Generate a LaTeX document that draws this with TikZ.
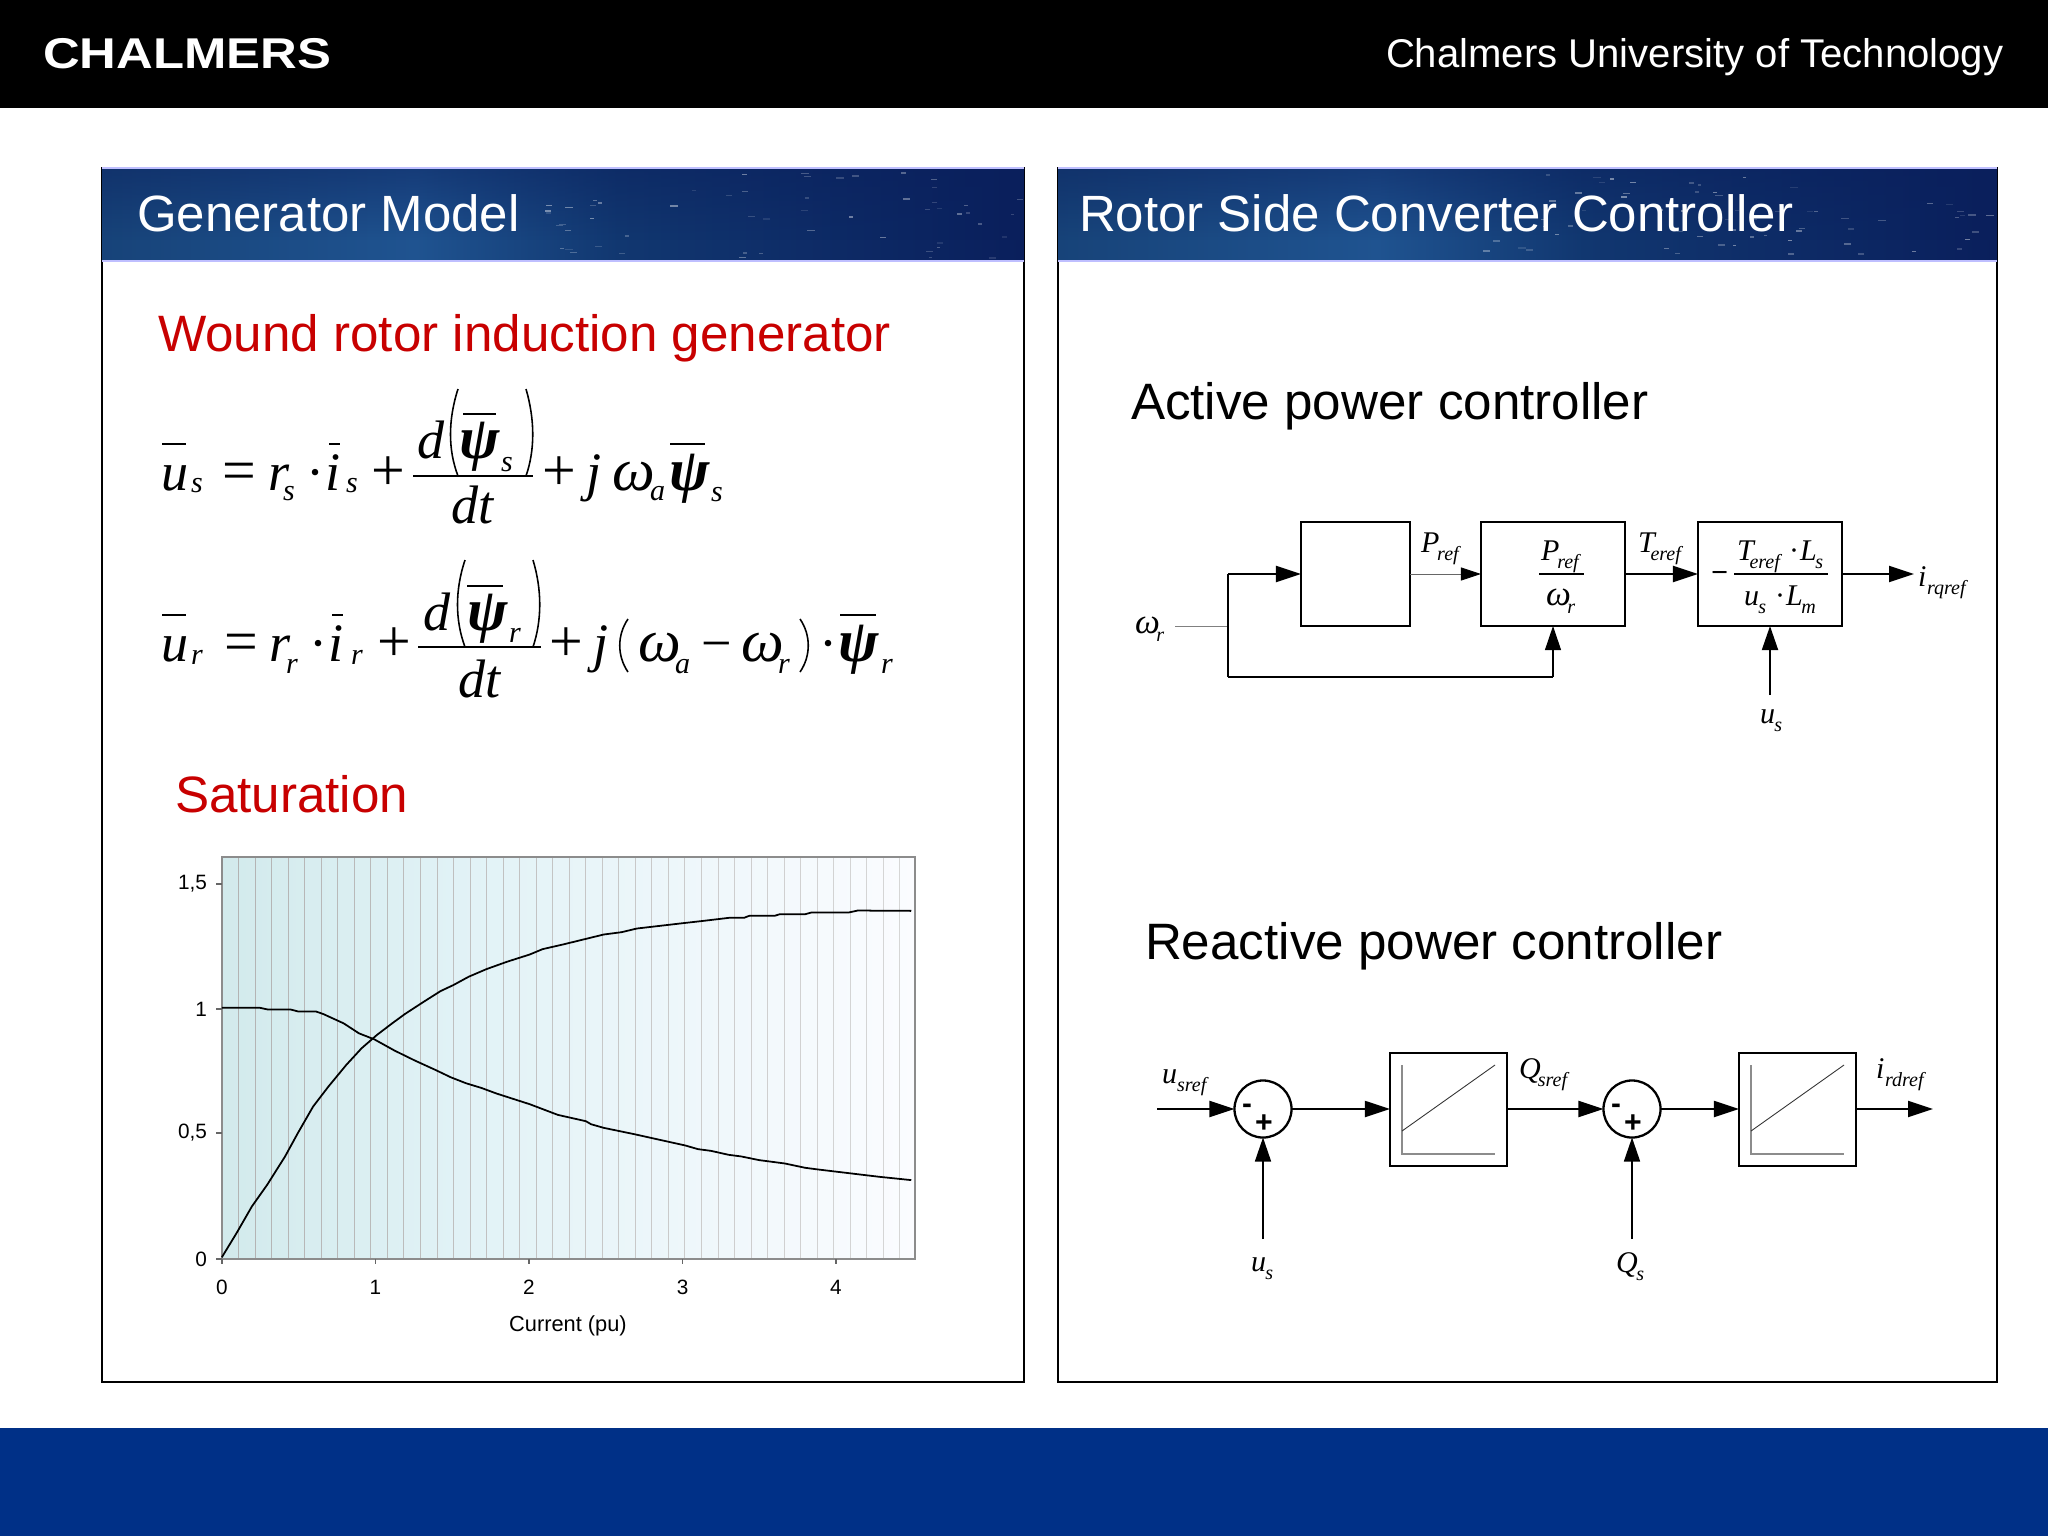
\documentclass[tikz,border=0pt]{standalone}
\usepackage{fontspec}
\setmainfont{Liberation Sans}
\newfontfamily\tms{Liberation Serif}
\usetikzlibrary{arrows.meta,fadings}
\definecolor{slidered}{HTML}{C80000}
\definecolor{bottombar}{HTML}{003087}
\definecolor{hA}{HTML}{174379}
\definecolor{hB}{HTML}{1F5390}
\definecolor{hC}{HTML}{113770}
\definecolor{hD}{HTML}{0A1F5C}
\definecolor{pA}{HTML}{D2EAEC}
\definecolor{pB}{HTML}{E1F2F6}
\definecolor{pC}{HTML}{FBFCFF}
\pgfdeclarehorizontalshading{hdrshade}{100bp}{color(0bp)=(hA);color(25bp)=(hA);color(42bp)=(hB);color(53bp)=(hC);color(75bp)=(hD);color(100bp)=(hD)}
\pgfdeclarehorizontalshading{plotshade}{100bp}{color(0bp)=(pA);color(25bp)=(pA);color(42bp)=(pB);color(75bp)=(pC);color(100bp)=(pC)}
\tikzset{
  txt/.style={inner sep=0pt,outer sep=0pt,anchor=base west},
  slidetitle/.style={txt,text=white,font=\fontsize{14.5}{17}\selectfont},
  heading/.style={txt,font=\fontsize{14.55}{17}\selectfont},
  redhead/.style={heading,text=slidered},
  big/.style={txt,font=\fontsize{15.4}{18}\selectfont\tms\itshape},
  greek/.style={txt,font=\fontsize{17.2}{20}\selectfont\tms\itshape\bfseries},
  greekl/.style={txt,font=\fontsize{17.2}{20}\selectfont\tms\itshape},
  bigup/.style={txt,font=\fontsize{15.4}{18}\selectfont\tms},
  bigop/.style={txt,font=\fontsize{17}{18}\selectfont\tms},
  small/.style={txt,font=\fontsize{8.54}{10}\selectfont\tms\itshape},
  smallup/.style={txt,font=\fontsize{8.54}{10}\selectfont\tms},
  axlab/.style={inner sep=0pt,outer sep=0pt,font=\fontsize{5.9}{7}\selectfont},
  eqline/.style={line width=0.45pt,black},
  panel/.style={draw=black,line width=0.6pt,fill=white},
  box/.style={draw=black,line width=0.65pt,fill=white,inner sep=0pt,outer sep=0pt,minimum width=#1},
  box/.default=1cm,
  sumnode/.style={draw=black,line width=0.65pt,circle,minimum size=0.57cm,inner sep=0pt,outer sep=0pt},
  link/.style={line width=0.55pt,black,-{Triangle[length=0.25cm,width=0.16cm]}},
  thinlink/.style={line width=0.25pt,black!60,-{Triangle[length=0.2cm,width=0.13cm,color=black,fill=black]}},
  uplink/.style={line width=0.45pt,black,-{Triangle[length=0.24cm,width=0.16cm]}},
  wire/.style={line width=0.55pt,black},
  thinwire/.style={line width=0.25pt,black!50},
  curve/.style={line width=0.5pt,black,line join=round},
  inneraxis/.style={line width=0.4pt,black!45},
  ramp/.style={line width=0.25pt,black!80},
}
\newcommand{\sublab}[3][-0.6pt]{#2\kern#1\raisebox{-2.4pt}{\fontsize{5.7}{6}\selectfont\tms\itshape #3}}
\newcommand{\sublabg}[3][-0.6pt]{{\fontsize{10}{10}\selectfont #2}\kern#1\raisebox{-2.4pt}{\fontsize{5.7}{6}\selectfont\tms\itshape #3}}
\begin{document}
\begin{tikzpicture}[x=0.01cm,y=-0.01cm]
\useasboundingbox (0,0) rectangle (2048,1536);
\fill[white] (0,0) rectangle (2048,1536);
% top and bottom bars
\fill[black] (0,0) rectangle (2048,108);
\fill[bottombar] (0,1428) rectangle (2048,1536);
\node[txt,text=white,font=\fontsize{12.25}{14}\selectfont\bfseries] (logo) at (43,68) {\scalebox{1.18}[1]{CHALMERS}};
\node[txt,text=white,font=\fontsize{11.4}{13}\selectfont] (uni) at (1386,67) {Chalmers University of Technology};
% panels
\draw[panel] (102,168) rectangle (1024,1382);
\draw[panel] (1058,168) rectangle (1997,1382);
\shade[shading=hdrshade] (102,168) rectangle (1024,261);
\shade[shading=hdrshade] (1058,168) rectangle (1997,261);
\fill[hD,opacity=0.45,path fading=south] (102,168) rectangle (1024,240);
\fill[hD,opacity=0.45,path fading=south] (1058,168) rectangle (1997,240);
\draw[line width=0.3pt,blue!25!white] (102,168) -- (1024,168) (102,261) -- (1024,261);
\draw[line width=0.3pt,blue!25!white] (1058,168) -- (1997,168) (1058,261) -- (1997,261);
\pgfmathsetseed{23}
\foreach \i in {1,...,55}{
  \pgfmathsetmacro\sx{540+480*rnd}\pgfmathsetmacro\sy{172+86*rnd}\pgfmathsetmacro\so{0.1+0.35*rnd}\pgfmathsetmacro\sl{3+5*rnd}
  \fill[white,opacity=\so] (\sx,\sy) rectangle ++(\sl,1.4);
}
\foreach \i in {1,...,65}{
  \pgfmathsetmacro\sx{1480+515*rnd}\pgfmathsetmacro\sy{172+86*rnd}\pgfmathsetmacro\so{0.1+0.35*rnd}\pgfmathsetmacro\sl{3+5*rnd}
  \fill[white,opacity=\so] (\sx,\sy) rectangle ++(\sl,1.4);
}
\node[slidetitle] (t1) at (137,231) {Generator Model};
\node[slidetitle] (t2) at (1079,231) {Rotor Side Converter Controller};
\node[redhead] (h1) at (158,351.5) {Wound rotor induction generator};
\node[redhead] (h2) at (175,812) {Saturation};
\node[heading] (h3) at (1131,419.5) {Active power controller};
\node[heading] (h4) at (1145,959.5) {Reactive power controller};
% equation 1
\node[big] (a1) at (161,490) {u};
\node[small] (a2) at (191,492) {s};
\node[bigop] (a3) at (222,490) {=};
\node[big] (a4) at (268,490) {r};
\node[small] (a5) at (283,500) {s};
\node[bigup] (a6) at (306,490) {·};
\node[big] (a7) at (325,490) {i};
\node[small] (a8) at (346,492) {s};
\node[bigop] (a9) at (371,490) {+};
\node[big] (a10) at (417,458) {d};
\node[greek] (a11) at (459,458) {ψ};
\node[small] (a12) at (501,471) {s};
\node[big] (a13) at (451,523) {dt};
\node[bigop] (a14) at (542,490) {+};
\node[big] (a15) at (586,490) {j};
\node[greekl] (a16) at (612,490) {ω};
\node[small] (a17) at (650,500) {a};
\node[greek] (a18) at (669,490) {ψ};
\node[small] (a19) at (711,501) {s};
\draw[eqline] (162,444) -- (186,444) (329,444) -- (340,444) (463,414) -- (496,414) (670,444) -- (705,444);
\draw[eqline] (413,476) -- (533,476);
\draw[eqline] (458,389) .. controls (448,420) and (448,450) .. (458,476);
\draw[eqline] (526,389) .. controls (535,420) and (535,450) .. (526,476);
% equation 2
\node[big] (b1) at (161,661) {u};
\node[small] (b2) at (191,664) {r};
\node[bigop] (b3) at (224,661) {=};
\node[big] (b4) at (269,661) {r};
\node[small] (b5) at (286,673) {r};
\node[bigup] (b6) at (309,661) {·};
\node[big] (b7) at (328,661) {i};
\node[small] (b8) at (351,664) {r};
\node[bigop] (b9) at (377,661) {+};
\node[big] (b10) at (423,630) {d};
\node[greek] (b11) at (467,630) {ψ};
\node[small] (b12) at (509,642) {r};
\node[big] (b13) at (458,697) {dt};
\node[bigop] (b14) at (549,661) {+};
\node[big] (b15) at (593,661) {j};
\node[greekl] (b16) at (638,661) {ω};
\node[small] (b17) at (675,673) {a};
\node[bigup] (b18) at (701,661) {−};
\node[greekl] (b19) at (741,661) {ω};
\node[small] (b20) at (778,673) {r};
\node[bigup] (b21) at (819,661) {·};
\node[greek] (b22) at (838,661) {ψ};
\node[small] (b23) at (881,673) {r};
\draw[eqline] (162,615) -- (186,615) (332,615) -- (343,615) (467,586) -- (503,586) (840,615) -- (876,615);
\draw[eqline] (418,647) -- (541,647);
\draw[eqline] (465,560) .. controls (455,590) and (455,620) .. (465,647);
\draw[eqline] (533,560) .. controls (542,590) and (542,620) .. (533,647);
\draw[eqline] (628,619) .. controls (617,635) and (617,656) .. (628,672);
\draw[eqline] (800,619) .. controls (811,635) and (811,656) .. (800,672);
% chart
\shade[shading=plotshade] (222,857) rectangle (915,1259);
\foreach \i in {1,...,41}{
  \pgfmathsetmacro\gl{30-14*\i/41}
  \draw[line width=0.22pt,black!\gl] ({222+\i*16.53},857) -- ({222+\i*16.53},1259);
}
\draw[line width=0.3pt,black!45] (222,857) rectangle (915,1259);
\foreach \yy/\lb in {884/{1,5},1009/1,1133/{0,5},1259/0}{
  \draw[line width=0.3pt,black!60] (216,\yy) -- (222,\yy);
  \node[axlab,anchor=east] at (207,\yy) {\lb};
}
\foreach \xx/\lb in {222/0,375.5/1,529/2,682.6/3,836/4}{
  \draw[line width=0.3pt,black!60] (\xx,1259) -- (\xx,1264);
  \node[axlab] at (\xx,1287) {\lb};
}
\node[axlab,font=\fontsize{6.2}{8}\selectfont] (xlab) at (568,1326) {Current (pu)};
\begin{scope}[x=0.0051020cm,y=-0.0033333cm,shift={(294,2520)}]
\draw[curve] (141,1258)--(170,1185)--(200,1105)--(230,1040)--(265,955)--(290,885)--(320,805)--(350,745)--(385,680)--(415,630)--(445,590)--(475,555)--(500,527)--(535,492)--(570,458)--(595,440)--(625,415)--(660,392)--(700,370)--(745,348)--(770,332)--(810,318)--(850,303)--(890,288)--(925,281)--(955,270)--(1000,262)--(1045,254)--(1080,248)--(1135,238)--(1165,238)--(1175,232)--(1225,232)--(1235,227)--(1285,227)--(1297,222)--(1370,222)--(1388,216)--(1493,217);
\draw[curve] (141,508)--(215,508)--(230,513)--(275,513)--(290,519)--(325,519)--(340,527)--(380,555)--(410,585)--(440,603)--(480,637)--(520,667)--(560,695)--(590,717)--(620,735)--(650,749)--(680,766)--(745,798)--(800,830)--(855,849)--(865,858)--(890,869)--(950,888)--(1000,905)--(1050,922)--(1075,933)--(1100,938)--(1135,950)--(1160,955)--(1195,966)--(1245,976)--(1285,989)--(1310,994)--(1370,1005)--(1430,1016)--(1493,1026);
\end{scope}
% active power controller
\node[box=1.09cm,minimum height=1.04cm] (pb1) at (1355.5,574) {};
\node[box=1.44cm,minimum height=1.04cm] (pb2) at (1553,574) {};
\node[box=1.44cm,minimum height=1.04cm] (pb3) at (1770,574) {};
\coordinate (wr) at (1175,626);
\coordinate (jn) at (1228,626);
\coordinate (jt) at (1228,574);
\coordinate (jb) at (1228,677);
\coordinate (jc) at (1553,677);
\coordinate (irq) at (1914,574);
\coordinate (usin) at (1770,695);
\draw[thinwire] (wr) -- (jn);
\draw[wire] (jb) -- (jt);
\draw[link] (jt) -- (pb1.west);
\draw[wire] (jb) -- (jc);
\draw[uplink,line width=0.3pt] (jc) -- (pb2.south);
\draw[thinlink] (pb1.east) -- (pb2.west);
\draw[link] (pb2.east) -- (pb3.west);
\draw[link] (pb3.east) -- (irq);
\draw[uplink,line width=0.55pt] (usin) -- (pb3.south);
\node[small] (lw) at (1135,633) {\sublabg[-1pt]{ω}{r}};
\node[small] (lp) at (1421,552) {\sublab{P}{ref}};
\node[small] (lt) at (1638,552) {\sublab[-1.2pt]{T}{eref}};
\node[small] (lo) at (1918,586) {\sublab[0.2pt]{i}{rqref}};
\node[small] (lu) at (1760,723) {\sublab[-0.2pt]{u}{s}};
\node[small] (f1) at (1541,560) {\sublab{P}{ref}};
\draw[eqline,line width=0.35pt] (1539,574) -- (1584,574);
\node[small] (f2) at (1546,605) {\sublabg[-1pt]{ω}{r}};
\node[smallup] (m1) at (1711,582) {\textbf{−}};
\node[small] (f3) at (1737,560) {\sublab[-1.2pt]{T}{eref}};
\node[smallup] (f4) at (1789,560) {·};
\node[small] (f5) at (1800,560) {\sublab[-0.4pt]{L}{s}};
\draw[eqline,line width=0.35pt] (1734,574) -- (1828,574);
\node[small] (f6) at (1744,605) {\sublab[-0.2pt]{u}{s}};
\node[smallup] (f7) at (1775,605) {·};
\node[small] (f8) at (1786,605) {\sublab[-0.4pt]{L}{m}};
% reactive power controller
\coordinate (usr) at (1157,1109);
\node[sumnode] (s1) at (1263,1109) {};
\node[box=1.17cm,minimum height=1.13cm] (qb1) at (1448.5,1109.5) {};
\node[sumnode] (s2) at (1632,1109) {};
\node[box=1.17cm,minimum height=1.13cm] (qb2) at (1797.5,1109.5) {};
\coordinate (ird) at (1933,1109);
\coordinate (usq) at (1263,1239);
\coordinate (qsq) at (1632,1239);
\draw[link] (usr) -- (s1.west);
\draw[link] (s1.east) -- (qb1.west |- s1.east);
\draw[link] (qb1.east |- s2.west) -- (s2.west);
\draw[link] (s2.east) -- (qb2.west |- s2.east);
\draw[link] (qb2.east |- s2.east) -- (ird);
\draw[uplink] (usq) -- (s1.south);
\draw[uplink] (qsq) -- (s2.south);
\foreach \bx in {0,349}{
  \begin{scope}[shift={(\bx,0)}]
  \draw[inneraxis] (1402,1065) -- (1402,1154) -- (1495,1154);
  \draw[ramp] (1402,1131) -- (1495,1065);
  \end{scope}
}
\node[txt,font=\fontsize{8.4}{9}\selectfont\bfseries] (s1m) at (1242,1113) {-};
\node[txt,font=\fontsize{8.6}{9}\selectfont\bfseries] (s1p) at (1255,1132) {+};
\node[txt,font=\fontsize{8.4}{9}\selectfont\bfseries] (s2m) at (1611,1113) {-};
\node[txt,font=\fontsize{8.6}{9}\selectfont\bfseries] (s2p) at (1624,1132) {+};
\node[small] (q1) at (1162,1083) {\sublab[0pt]{u}{sref}};
\node[small] (q2) at (1519,1078) {\sublab[-0.8pt]{Q}{sref}};
\node[small] (q3) at (1876,1078) {\sublab[0.2pt]{i}{rdref}};
\node[small] (q4) at (1251,1271) {\sublab[-0.2pt]{u}{s}};
\node[small] (q5) at (1616,1272) {\sublab[-0.4pt]{Q}{s}};
\end{tikzpicture}
\end{document}
